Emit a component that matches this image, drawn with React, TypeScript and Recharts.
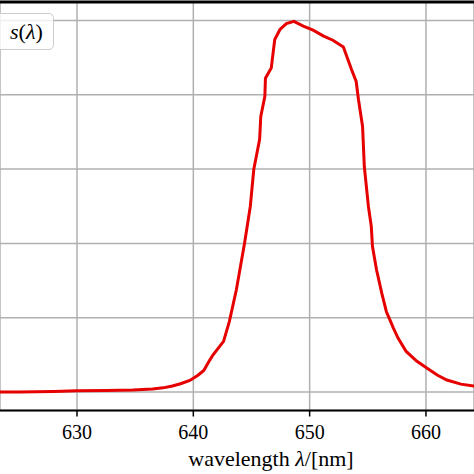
import { LineChart, Line, XAxis, YAxis, CartesianGrid, Legend, ReferenceLine } from 'recharts';

const wavelengths = [
  622.0, 625.0, 628.0, 630.0, 632.5, 634.8, 636.5, 637.4, 638.2, 638.9, 639.7, 640.4, 640.9, 641.4, 641.7,
  642.6, 643.1, 643.7, 644.4, 644.9, 645.2, 645.7, 645.8, 646.15, 646.2, 646.7, 647.0, 647.45, 648.0, 648.65,
  649.45, 650.3, 651.2, 652.0, 652.9, 653.6, 654.0, 654.2, 654.55, 654.7, 655.05, 655.3, 655.4, 655.75, 656.2,
  656.6, 656.9, 657.2, 657.6, 658.3, 659.2, 660.1, 661.0, 661.8, 663.0, 664.1, 665.5,
];
const intensity = [
  0.0, 0.0, 0.001, 0.003, 0.004, 0.005, 0.008, 0.011, 0.016, 0.022, 0.031, 0.045, 0.058, 0.085, 0.1,
  0.136, 0.19, 0.275, 0.4, 0.5, 0.6, 0.68, 0.742, 0.796, 0.845, 0.872, 0.949, 0.976, 0.992, 0.998,
  0.985, 0.974, 0.958, 0.947, 0.929, 0.868, 0.836, 0.787, 0.715, 0.607, 0.5, 0.446, 0.392, 0.329, 0.266,
  0.216, 0.194, 0.172, 0.145, 0.109, 0.083, 0.064, 0.045, 0.032, 0.021, 0.016, 0.01,
];
const xTicks = [630, 640, 650, 660];
const yTicks = [0, 0.2, 0.4, 0.6, 0.8, 1.0];

const data = wavelengths.map((w, i) => ({ w, s: intensity[i] }));

const font = '"Liberation Serif", "DejaVu Serif", serif';

export default function App() {
  return (
    <div style={{ position: 'absolute', left: 0, top: 0, width: 474, height: 474, overflow: 'hidden', background: '#fff' }}>
      <LineChart width={474} height={474} data={data} margin={{ top: 2, right: 0, left: 0, bottom: 3.5 }}>
        <CartesianGrid stroke="#b0b0b0" strokeWidth={1.5} />
        <XAxis
          dataKey="w"
          type="number"
          domain={[623.38, 664.13]}
          allowDataOverflow
          ticks={xTicks}
          height={60}
          stroke="#000"
          axisLine={{ stroke: '#000', strokeWidth: 2 }}
          tickLine={{ stroke: '#000', strokeWidth: 1.5 }}
          tickSize={6}
          tickMargin={8}
          tick={{ fill: '#000', fontSize: 20, fontFamily: font }}
          label={{
            content: () => (
              <text x={271} y={466} textAnchor="middle" fontSize={22} fontFamily={font} fill="#000">
                wavelength <tspan fontStyle="italic">λ</tspan>/[nm]
              </text>
            ),
          }}
        />
        <YAxis type="number" domain={[-0.05, 1.05]} ticks={yTicks} hide allowDataOverflow />
        <ReferenceLine y={1.05} stroke="#000" strokeWidth={3} ifOverflow="visible" />
        <Legend
          layout="horizontal"
          verticalAlign="middle"
          align="center"
          wrapperStyle={{ top: 13, left: -20, width: 74, height: 37 }}
          content={() => (
            <div
              style={{
                boxSizing: 'border-box',
                width: 74,
                height: 37,
                border: '1.3px solid #cccccc',
                borderRadius: 5,
                background: 'rgba(255,255,255,0.8)',
                fontFamily: font,
                fontSize: 22,
                lineHeight: '35px',
                paddingLeft: 29,
                color: '#000',
              }}
            >
              <i>s</i>(<i>λ</i>)
            </div>
          )}
        />
        <Line
          dataKey="s"
          name="s(λ)"
          type="linear"
          stroke="#e60000"
          strokeWidth={3}
          dot={false}
          isAnimationActive={false}
        />
      </LineChart>
    </div>
  );
}
